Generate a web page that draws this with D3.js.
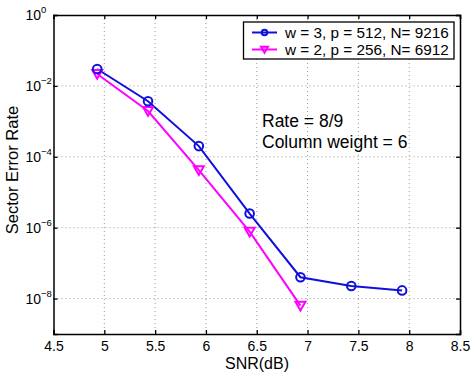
<!DOCTYPE html>
<html><head><meta charset="utf-8">
<script src="https://cdn.jsdelivr.net/npm/d3@7"></script>
<style>body{margin:0;background:#fff}svg{display:block}text{font-family:"Liberation Sans",Arial,Helvetica,sans-serif}</style>
</head><body>
<svg id="c" width="474" height="373"></svg>
<script>
const snr = [4.93, 5.43, 5.93, 6.43, 6.93, 7.43, 7.93];
const serW3 = [0.030, 0.0037, 2.0e-4, 2.5e-6, 4.0e-8, 2.25e-8, 1.7e-8];
const snrW2 = [4.93, 5.43, 5.93, 6.43, 6.93];
const serW2 = [0.0216, 0.00196, 4.2e-5, 7.7e-7, 6.3e-9];
const xTicks = [4.5, 5, 5.5, 6, 6.5, 7, 7.5, 8, 8.5];
const yTickExps = [0, -2, -4, -6, -8];
const legendLabels = ["w = 3, p = 512, N= 9216", "w = 2, p = 256, N= 6912"];
const annotation = ["Rate = 8/9", "Column weight = 6"];

const svg = d3.select("#c");
const L = 53.5, R = 460, T = 15, B = 334;
const x = d3.scaleLinear().domain([4.5, 8.5]).range([L, R]);
const y = d3.scaleLog().domain([1e-9, 1]).range([B, T]);
const blue = "#1010dc", mag = "#ff00ff";

// grid
const g = svg.append("g");
xTicks.slice(1, -1).forEach(v => g.append("line").attr("x1", x(v)).attr("x2", x(v)).attr("y1", T).attr("y2", B)
  .attr("stroke", "#9a9a9a").attr("stroke-width", 1).attr("stroke-dasharray", "1,3"));
yTickExps.slice(1).forEach(e => g.append("line").attr("x1", L).attr("x2", R).attr("y1", y(Math.pow(10, e))).attr("y2", y(Math.pow(10, e)))
  .attr("stroke", "#9a9a9a").attr("stroke-width", 1).attr("stroke-dasharray", "1,3"));

// axes with inward ticks
const axB = d3.axisBottom(x).tickValues(xTicks).tickSize(-4).tickPadding(7).tickFormat(d => d);
const axT = d3.axisTop(x).tickValues(xTicks).tickSize(-4).tickFormat("");
const yVals = yTickExps.map(e => Math.pow(10, e));
const axL = d3.axisLeft(y).tickValues(yVals).tickSize(-4).tickFormat("");
const axR = d3.axisRight(y).tickValues(yVals).tickSize(-4).tickFormat("");
function style(sel){ sel.selectAll("path,line").attr("stroke", "#000").attr("stroke-width", 1.3); sel.select(".domain").attr("stroke-width",1.5); sel.selectAll("text").attr("fill","#000").style("font-size","14px").style("font-family",'"Liberation Sans",Arial,sans-serif'); }
svg.append("g").attr("transform", `translate(0,${B})`).call(axB).call(style);
svg.append("g").attr("transform", `translate(0,${T})`).call(axT).call(style);
svg.append("g").attr("transform", `translate(${L},0)`).call(axL).call(style);
svg.append("g").attr("transform", `translate(${R},0)`).call(axR).call(style);

// y tick labels 10^e
yTickExps.forEach(e => {
  svg.append("text").attr("x", 41).attr("y", y(Math.pow(10, e)) + 5).attr("text-anchor", "end")
    .style("font-size", "14px").attr("fill", "#000").text("10");
  svg.append("text").attr("x", 41).attr("y", y(Math.pow(10, e)) - 2).style("font-size", "9.5px").attr("fill", "#000")
    .text(e === 0 ? "0" : "\u2212" + Math.abs(e));
});

// labels
svg.append("text").attr("x", 257).attr("y", 369).attr("text-anchor", "middle").style("font-size", "16px").text("SNR(dB)");
svg.append("text").attr("transform", "translate(18,170) rotate(-90)").attr("text-anchor", "middle").style("font-size", "16.5px").text("Sector Error Rate");

// lines
const line = d3.line().x(d => x(d[0])).y(d => y(d[1]));
const d3w = snr.map((s, i) => [s, serW3[i]]);
const d2w = snrW2.map((s, i) => [s, serW2[i]]);
svg.append("path").datum(d2w).attr("d", line).attr("fill", "none").attr("stroke", mag).attr("stroke-width", 2);
svg.append("path").datum(d3w).attr("d", line).attr("fill", "none").attr("stroke", blue).attr("stroke-width", 2);
const tri = (cx, cy, s) => `M${cx - s},${cy - s * 0.8}L${cx + s},${cy - s * 0.8}L${cx},${cy + s * 0.95}Z`;
svg.selectAll(".tri").data(d2w).enter().append("path").attr("d", d => tri(x(d[0]), y(d[1]), 5))
  .attr("fill", "none").attr("stroke", mag).attr("stroke-width", 2);
svg.selectAll(".circ").data(d3w).enter().append("circle").attr("cx", d => x(d[0])).attr("cy", d => y(d[1])).attr("r", 4.3)
  .attr("fill", "none").attr("stroke", blue).attr("stroke-width", 2);

// legend
svg.append("rect").attr("x", 243.5).attr("y", 22).attr("width", 210.5).attr("height", 37).attr("fill", "#fff").attr("stroke", "#000").attr("stroke-width", 1.3);
const ly = [32.5, 49.5];
[blue, mag].forEach((c, i) => {
  svg.append("line").attr("x1", 252).attr("x2", 277).attr("y1", ly[i]).attr("y2", ly[i]).attr("stroke", c).attr("stroke-width", 2);
  if (i === 0) svg.append("circle").attr("cx", 264.5).attr("cy", ly[i]).attr("r", 2.8).attr("fill", "none").attr("stroke", c).attr("stroke-width", 2);
  else svg.append("path").attr("d", tri(264.5, ly[i], 3.5)).attr("fill", "none").attr("stroke", c).attr("stroke-width", 2);
  svg.append("text").attr("x", 285).attr("y", ly[i] + 5.5).style("font-size", "15.3px").text(legendLabels[i]);
});

// annotation
annotation.forEach((t, i) => svg.append("text").attr("x", 262).attr("y", 127 + i * 20.5).style("font-size", "17.5px").text(t));
</script>
</body></html>
